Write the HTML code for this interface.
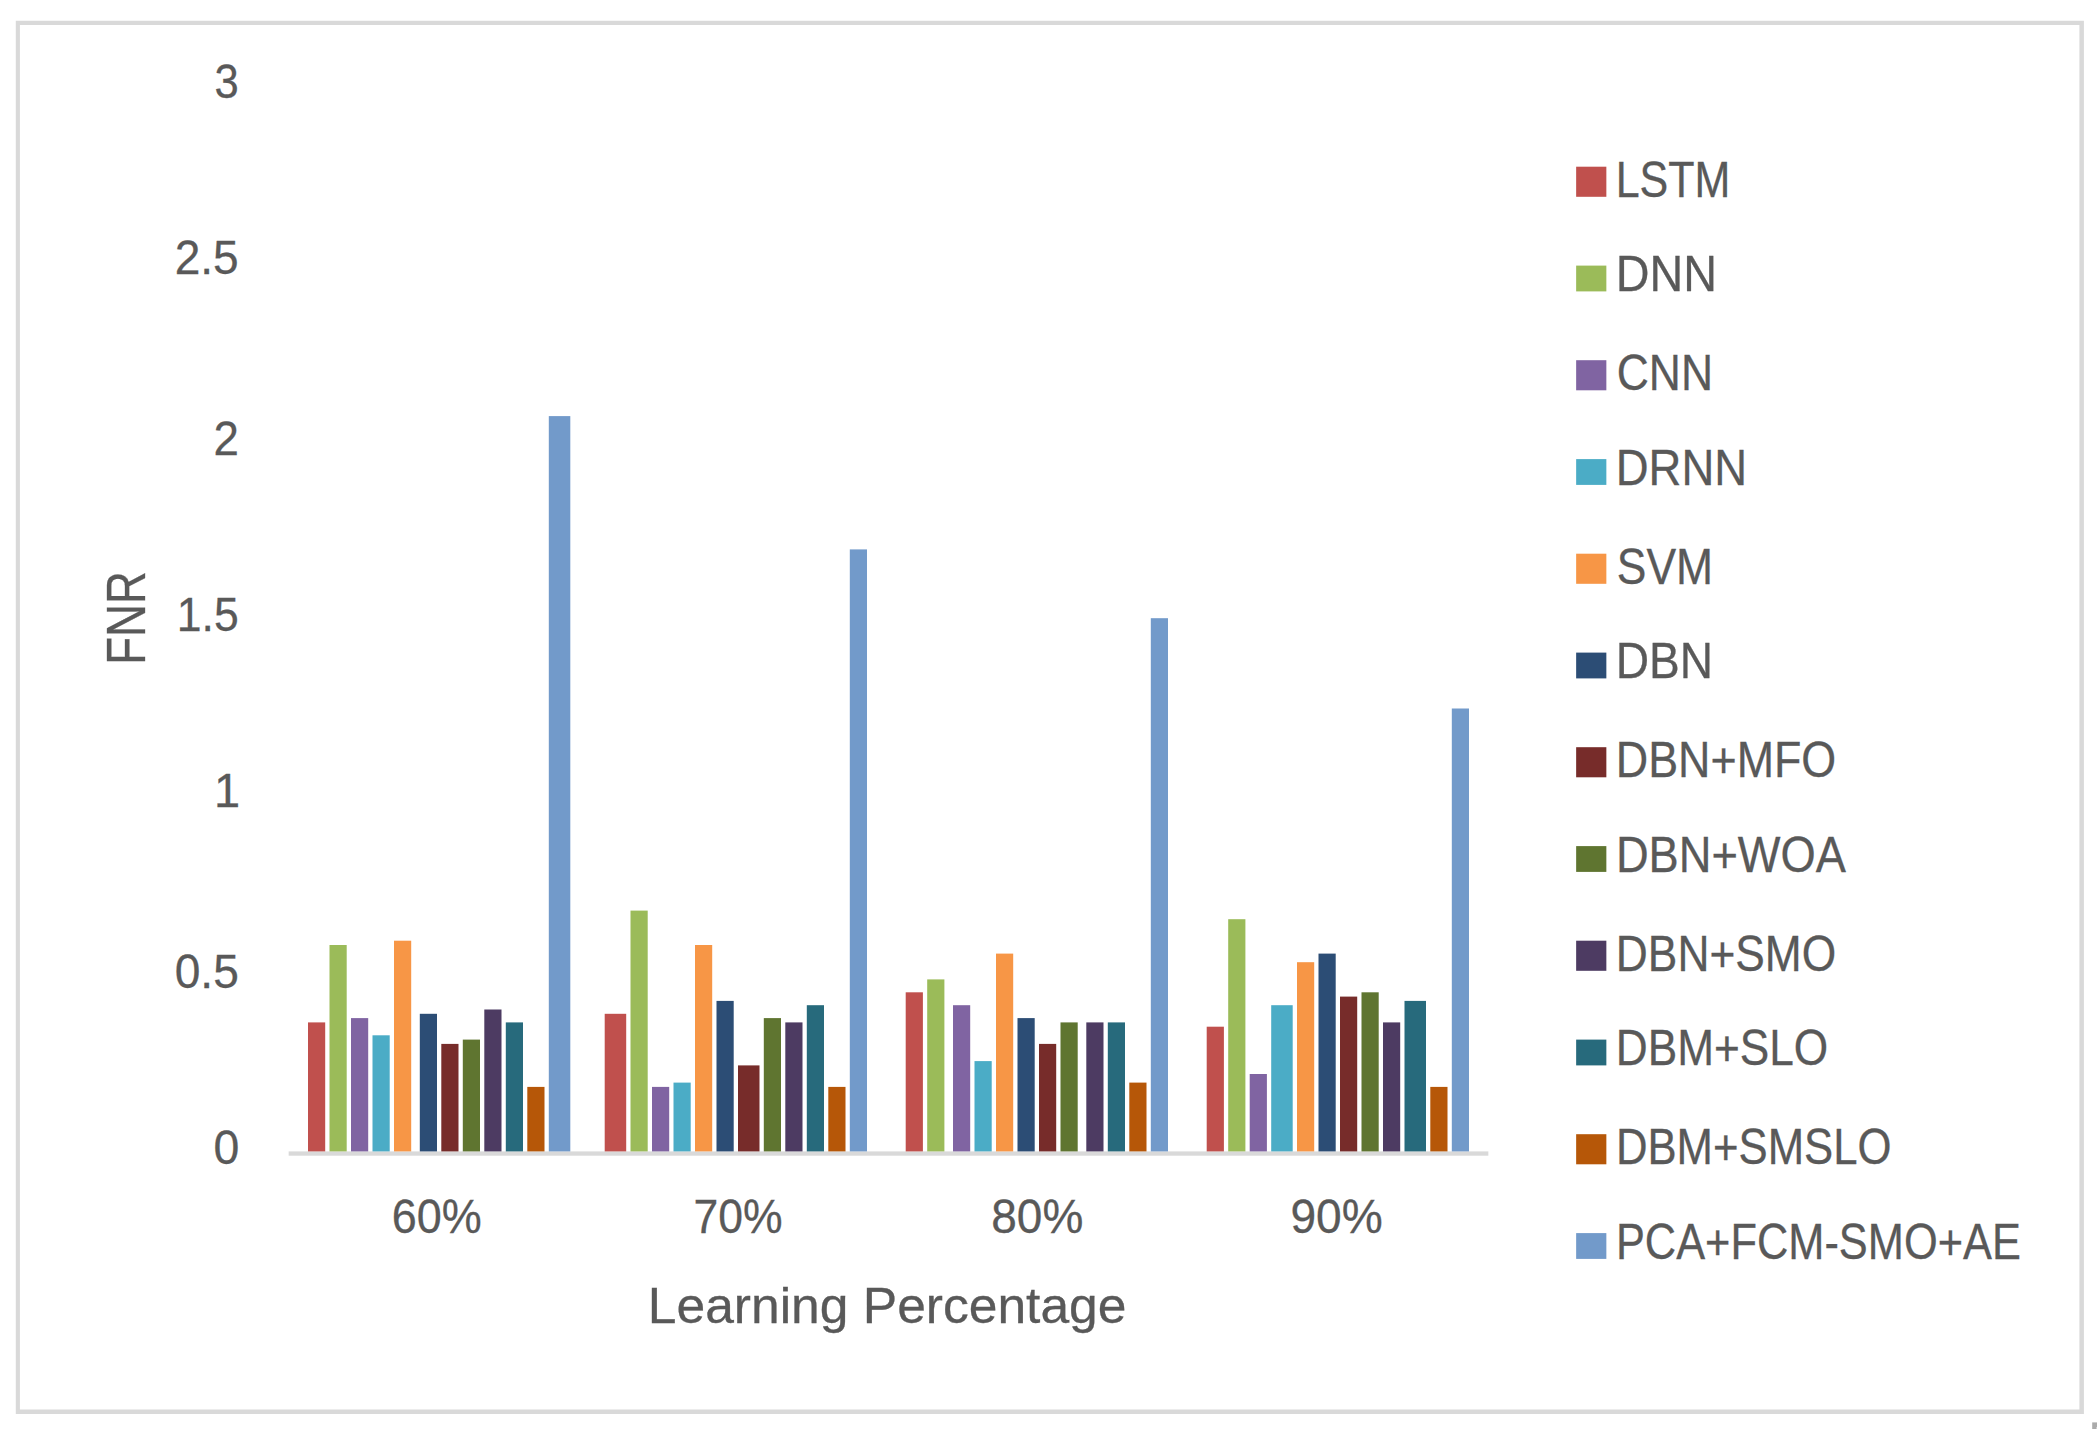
<!DOCTYPE html>
<html lang="en"><head><meta charset="utf-8"><title>FNR vs Learning Percentage</title>
<style>html,body{margin:0;padding:0;background:#fff;}body{width:2097px;height:1429px;overflow:hidden;}svg{display:block;}text{font-family:"Liberation Sans",sans-serif;fill:#595959;stroke:#595959;stroke-width:0.3px;}</style></head><body>
<svg width="2097" height="1429" viewBox="0 0 2097 1429">
<rect x="0" y="0" width="2097" height="1429" fill="#ffffff"/>
<path d="M15.8 20.8H2083.9V1413.9H15.8Z M19.9 24.9V1409.5H2079.4V24.9Z" fill="#d9d9d9" fill-rule="evenodd"/>
<rect x="2092.2" y="1422.4" width="5" height="7" fill="#ababab"/><rect x="2096.3" y="1427" width="1" height="3" fill="#dcdcdc"/>
<rect x="288.65" y="1151.4" width="1199.7" height="4.3" fill="#d9d9d9"/>
<g>
<rect x="308.0" y="1022.4" width="17.2" height="129.0" fill="#C0504D"/>
<rect x="329.5" y="945.0" width="17.2" height="206.4" fill="#9BBB59"/>
<rect x="351.0" y="1018.1" width="17.2" height="133.3" fill="#8064A2"/>
<rect x="372.5" y="1035.3" width="17.2" height="116.1" fill="#4BACC6"/>
<rect x="394.0" y="940.7" width="17.2" height="210.7" fill="#F79646"/>
<rect x="419.8" y="1013.8" width="17.2" height="137.6" fill="#2C4D75"/>
<rect x="441.3" y="1043.9" width="17.2" height="107.5" fill="#772C2A"/>
<rect x="462.8" y="1039.6" width="17.2" height="111.8" fill="#5F7530"/>
<rect x="484.3" y="1009.5" width="17.2" height="141.9" fill="#4D3B62"/>
<rect x="505.8" y="1022.4" width="17.2" height="129.0" fill="#276A7C"/>
<rect x="527.3" y="1086.9" width="17.2" height="64.5" fill="#B65708"/>
<rect x="548.8" y="416.1" width="21.5" height="735.3" fill="#729ACA"/>
<rect x="604.7" y="1013.8" width="21.5" height="137.6" fill="#C0504D"/>
<rect x="630.5" y="910.6" width="17.2" height="240.8" fill="#9BBB59"/>
<rect x="652.0" y="1086.9" width="17.2" height="64.5" fill="#8064A2"/>
<rect x="673.5" y="1082.6" width="17.2" height="68.8" fill="#4BACC6"/>
<rect x="695.0" y="945.0" width="17.2" height="206.4" fill="#F79646"/>
<rect x="716.5" y="1000.9" width="17.2" height="150.5" fill="#2C4D75"/>
<rect x="738.0" y="1065.4" width="21.5" height="86.0" fill="#772C2A"/>
<rect x="763.8" y="1018.1" width="17.2" height="133.3" fill="#5F7530"/>
<rect x="785.3" y="1022.4" width="17.2" height="129.0" fill="#4D3B62"/>
<rect x="806.8" y="1005.2" width="17.2" height="146.2" fill="#276A7C"/>
<rect x="828.3" y="1086.9" width="17.2" height="64.5" fill="#B65708"/>
<rect x="849.8" y="549.4" width="17.2" height="602.0" fill="#729ACA"/>
<rect x="905.7" y="992.3" width="17.2" height="159.1" fill="#C0504D"/>
<rect x="927.2" y="979.4" width="17.2" height="172.0" fill="#9BBB59"/>
<rect x="953.0" y="1005.2" width="17.2" height="146.2" fill="#8064A2"/>
<rect x="974.5" y="1061.1" width="17.2" height="90.3" fill="#4BACC6"/>
<rect x="996.0" y="953.6" width="17.2" height="197.8" fill="#F79646"/>
<rect x="1017.5" y="1018.1" width="17.2" height="133.3" fill="#2C4D75"/>
<rect x="1039.0" y="1043.9" width="17.2" height="107.5" fill="#772C2A"/>
<rect x="1060.5" y="1022.4" width="17.2" height="129.0" fill="#5F7530"/>
<rect x="1086.3" y="1022.4" width="17.2" height="129.0" fill="#4D3B62"/>
<rect x="1107.8" y="1022.4" width="17.2" height="129.0" fill="#276A7C"/>
<rect x="1129.3" y="1082.6" width="17.2" height="68.8" fill="#B65708"/>
<rect x="1150.8" y="618.2" width="17.2" height="533.2" fill="#729ACA"/>
<rect x="1206.7" y="1026.7" width="17.2" height="124.7" fill="#C0504D"/>
<rect x="1228.2" y="919.2" width="17.2" height="232.2" fill="#9BBB59"/>
<rect x="1249.7" y="1074.0" width="17.2" height="77.4" fill="#8064A2"/>
<rect x="1271.2" y="1005.2" width="21.5" height="146.2" fill="#4BACC6"/>
<rect x="1297.0" y="962.2" width="17.2" height="189.2" fill="#F79646"/>
<rect x="1318.5" y="953.6" width="17.2" height="197.8" fill="#2C4D75"/>
<rect x="1340.0" y="996.6" width="17.2" height="154.8" fill="#772C2A"/>
<rect x="1361.5" y="992.3" width="17.2" height="159.1" fill="#5F7530"/>
<rect x="1383.0" y="1022.4" width="17.2" height="129.0" fill="#4D3B62"/>
<rect x="1404.5" y="1000.9" width="21.5" height="150.5" fill="#276A7C"/>
<rect x="1430.3" y="1086.9" width="17.2" height="64.5" fill="#B65708"/>
<rect x="1451.8" y="708.5" width="17.2" height="442.9" fill="#729ACA"/>
</g>
<g>
<rect x="1576.15" y="166.7" width="30.2" height="30.1" fill="#C0504D"/>
<rect x="1576.15" y="265.6" width="30.2" height="25.8" fill="#9BBB59"/>
<rect x="1576.15" y="360.2" width="30.2" height="30.1" fill="#8064A2"/>
<rect x="1576.15" y="459.1" width="30.2" height="25.8" fill="#4BACC6"/>
<rect x="1576.15" y="553.7" width="30.2" height="30.1" fill="#F79646"/>
<rect x="1576.15" y="652.6" width="30.2" height="25.8" fill="#2C4D75"/>
<rect x="1576.15" y="747.2" width="30.2" height="30.1" fill="#772C2A"/>
<rect x="1576.15" y="846.1" width="30.2" height="25.8" fill="#5F7530"/>
<rect x="1576.15" y="940.7" width="30.2" height="30.1" fill="#4D3B62"/>
<rect x="1576.15" y="1039.6" width="30.2" height="25.8" fill="#276A7C"/>
<rect x="1576.15" y="1134.2" width="30.2" height="30.1" fill="#B65708"/>
<rect x="1576.15" y="1233.1" width="30.2" height="25.8" fill="#729ACA"/>
</g>
<g>
<text id="y3" x="214.48" y="97.9" font-size="48" textLength="24.23" lengthAdjust="spacingAndGlyphs">3</text>
<text id="y2.5" x="174.7" y="274.2" font-size="48" textLength="64.06" lengthAdjust="spacingAndGlyphs">2.5</text>
<text id="y2" x="213.38" y="454.8" font-size="48" textLength="25.42" lengthAdjust="spacingAndGlyphs">2</text>
<text id="y1.5" x="176.79" y="631.1" font-size="48" textLength="61.93" lengthAdjust="spacingAndGlyphs">1.5</text>
<text id="y1" x="214.12" y="807.4" font-size="48" textLength="26.11" lengthAdjust="spacingAndGlyphs">1</text>
<text id="y0.5" x="174.71" y="988.0" font-size="48" textLength="64.1" lengthAdjust="spacingAndGlyphs">0.5</text>
<text id="y0" x="213.38" y="1164.3" font-size="48" textLength="25.84" lengthAdjust="spacingAndGlyphs">0</text>
<text id="x60%" x="391.82" y="1233.1" font-size="48" textLength="89.96" lengthAdjust="spacingAndGlyphs">60%</text>
<text id="x70%" x="693.43" y="1233.1" font-size="48" textLength="89.15" lengthAdjust="spacingAndGlyphs">70%</text>
<text id="x80%" x="991.26" y="1233.1" font-size="48" textLength="92.04" lengthAdjust="spacingAndGlyphs">80%</text>
<text id="x90%" x="1290.45" y="1233.1" font-size="48" textLength="92.3" lengthAdjust="spacingAndGlyphs">90%</text>
<text id="xt" x="647.81" y="1323.4" font-size="50" textLength="478.61" lengthAdjust="spacingAndGlyphs">Learning Percentage</text>
<text id="yt" transform="translate(144.8 664.8) rotate(-90)" x="0" y="0" font-size="56" textLength="93.8" lengthAdjust="spacingAndGlyphs">FNR</text>
<text id="l0" x="1615.7" y="196.8" font-size="50" textLength="114.7" lengthAdjust="spacingAndGlyphs">LSTM</text>
<text id="l1" x="1615.7" y="291.4" font-size="50" textLength="101.21" lengthAdjust="spacingAndGlyphs">DNN</text>
<text id="l2" x="1616.75" y="390.3" font-size="50" textLength="96.26" lengthAdjust="spacingAndGlyphs">CNN</text>
<text id="l3" x="1615.78" y="484.9" font-size="50" textLength="131.3" lengthAdjust="spacingAndGlyphs">DRNN</text>
<text id="l4" x="1616.75" y="583.8" font-size="50" textLength="96.26" lengthAdjust="spacingAndGlyphs">SVM</text>
<text id="l5" x="1615.66" y="678.4" font-size="50" textLength="97.37" lengthAdjust="spacingAndGlyphs">DBN</text>
<text id="l6" x="1615.87" y="777.3" font-size="50" textLength="220.34" lengthAdjust="spacingAndGlyphs">DBN+MFO</text>
<text id="l7" x="1615.89" y="871.9" font-size="50" textLength="230.09" lengthAdjust="spacingAndGlyphs">DBN+WOA</text>
<text id="l8" x="1615.87" y="970.8" font-size="50" textLength="220.34" lengthAdjust="spacingAndGlyphs">DBN+SMO</text>
<text id="l9" x="1615.83" y="1065.4" font-size="50" textLength="212.39" lengthAdjust="spacingAndGlyphs">DBM+SLO</text>
<text id="l10" x="1615.89" y="1164.3" font-size="50" textLength="275.6" lengthAdjust="spacingAndGlyphs">DBM+SMSLO</text>
<text id="l11" x="1615.9" y="1258.9" font-size="50" textLength="404.95" lengthAdjust="spacingAndGlyphs">PCA+FCM-SMO+AE</text>
</g>
</svg></body></html>
